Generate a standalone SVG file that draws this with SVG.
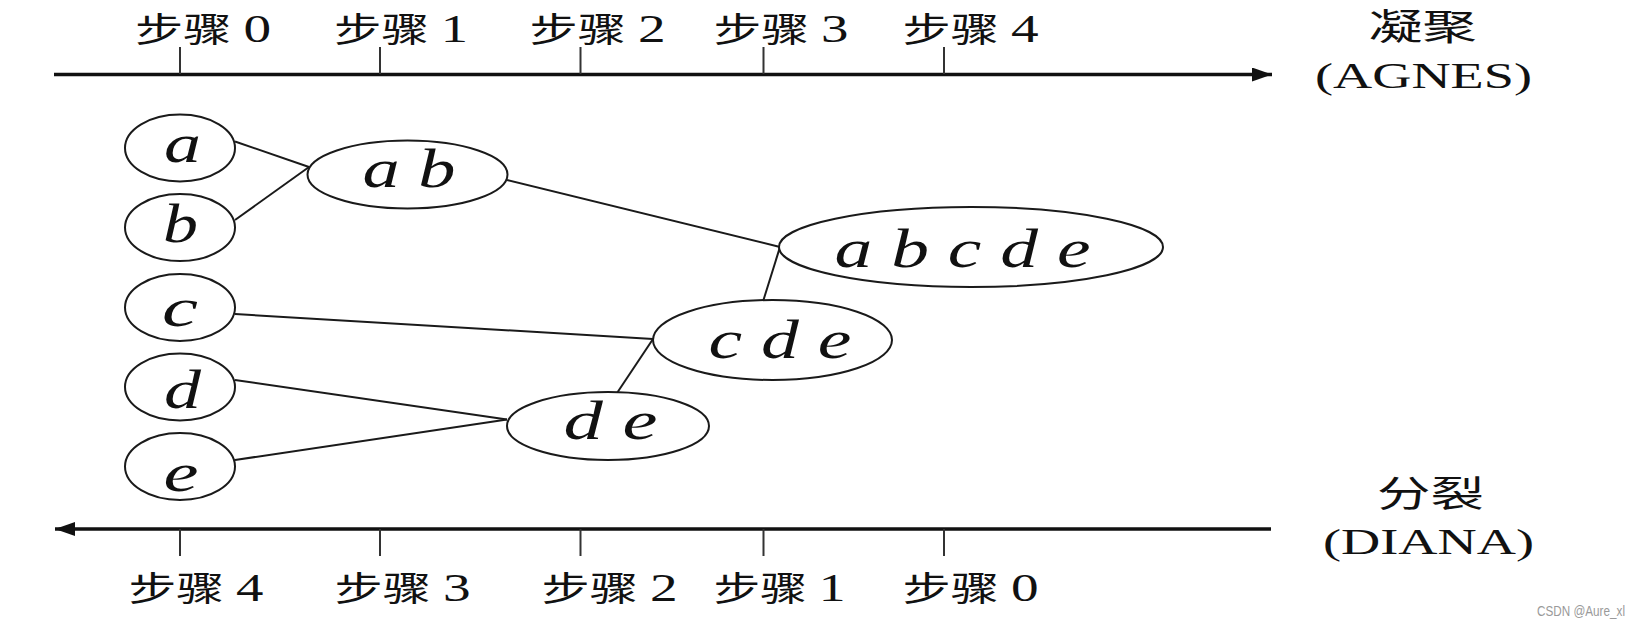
<svg xmlns="http://www.w3.org/2000/svg" width="1641" height="626" viewBox="0 0 1641 626">
<style>
.bg{fill:#ffffff}
.node{fill:#ffffff;stroke:#1a1a1a;stroke-width:2}
.lbl{font-family:"Liberation Serif","Noto Sans CJK SC",serif;font-style:italic;font-size:54px;fill:#111;text-anchor:middle}
.step{font-family:"Liberation Serif","Noto Sans CJK SC",serif;font-size:34px;fill:#111;text-anchor:middle}
.num{font-size:39px}
.side{font-family:"Liberation Serif","Noto Sans CJK SC",serif;font-size:36px;fill:#111;text-anchor:middle}
.edge{stroke:#1a1a1a;stroke-width:2;fill:none}
.axis{stroke:#111;stroke-width:3.5;fill:none}
.tick{stroke:#333;stroke-width:2}
.wm{font-family:"Liberation Sans",sans-serif;font-size:14px;fill:#9a9a9a}
</style>
<defs>
<marker id="arrow" markerUnits="userSpaceOnUse" markerWidth="20" markerHeight="14" refX="20" refY="7" orient="auto">
<path d="M0,0 L20,7 L0,14 Z" fill="#111"/>
</marker>
</defs>
<rect class="bg" x="0" y="0" width="1641" height="626"/>

<g id="axes">
<line class="axis" x1="54" y1="74.5" x2="1272" y2="74.5" marker-end="url(#arrow)"/>
<line class="tick" x1="180" y1="47" x2="180" y2="74"/>
<line class="tick" x1="380" y1="47" x2="380" y2="74"/>
<line class="tick" x1="580.5" y1="47" x2="580.5" y2="74"/>
<line class="tick" x1="763.5" y1="47" x2="763.5" y2="74"/>
<line class="tick" x1="944" y1="47" x2="944" y2="74"/>
<line class="axis" x1="1271" y1="529" x2="55" y2="529" marker-end="url(#arrow)"/>
<line class="tick" x1="180" y1="529" x2="180" y2="556"/>
<line class="tick" x1="380" y1="529" x2="380" y2="556"/>
<line class="tick" x1="580.5" y1="529" x2="580.5" y2="556"/>
<line class="tick" x1="763.5" y1="529" x2="763.5" y2="556"/>
<line class="tick" x1="944" y1="529" x2="944" y2="556"/>
</g>

<g id="axis-labels">
<text class="step" x="203" y="42" textLength="136" lengthAdjust="spacingAndGlyphs">步骤 <tspan class="num">0</tspan></text>
<text class="step" x="401" y="42" textLength="134" lengthAdjust="spacingAndGlyphs">步骤 <tspan class="num">1</tspan></text>
<text class="step" x="597.5" y="42" textLength="136" lengthAdjust="spacingAndGlyphs">步骤 <tspan class="num">2</tspan></text>
<text class="step" x="781" y="42" textLength="135" lengthAdjust="spacingAndGlyphs">步骤 <tspan class="num">3</tspan></text>
<text class="step" x="970.5" y="42" textLength="136" lengthAdjust="spacingAndGlyphs">步骤 <tspan class="num">4</tspan></text>
<text class="step" x="196" y="601" textLength="135" lengthAdjust="spacingAndGlyphs">步骤 <tspan class="num">4</tspan></text>
<text class="step" x="402.5" y="601" textLength="136" lengthAdjust="spacingAndGlyphs">步骤 <tspan class="num">3</tspan></text>
<text class="step" x="609.5" y="601" textLength="136" lengthAdjust="spacingAndGlyphs">步骤 <tspan class="num">2</tspan></text>
<text class="step" x="779.5" y="601" textLength="132" lengthAdjust="spacingAndGlyphs">步骤 <tspan class="num">1</tspan></text>
<text class="step" x="970.5" y="601" textLength="136" lengthAdjust="spacingAndGlyphs">步骤 <tspan class="num">0</tspan></text>
<text class="side" x="1422.5" y="40" textLength="108" lengthAdjust="spacingAndGlyphs">凝聚</text>
<text class="side" x="1423.5" y="88" textLength="217" lengthAdjust="spacingAndGlyphs">(AGNES)</text>
<text class="side" x="1430.5" y="507" textLength="107" lengthAdjust="spacingAndGlyphs">分裂</text>
<text class="side" x="1428.5" y="554" textLength="211" lengthAdjust="spacingAndGlyphs">(DIANA)</text>
</g>

<g id="connectors">
<line class="edge" x1="235" y1="141.5" x2="309" y2="167"/>
<line class="edge" x1="235" y1="220" x2="309" y2="167"/>
<line class="edge" x1="507" y1="180" x2="780" y2="247"/>
<line class="edge" x1="780" y1="247" x2="763.5" y2="300"/>
<line class="edge" x1="235" y1="314" x2="653" y2="339"/>
<line class="edge" x1="617" y1="393" x2="653" y2="339"/>
<line class="edge" x1="235" y1="380" x2="507" y2="419.5"/>
<line class="edge" x1="235" y1="460" x2="507" y2="419.5"/>
</g>

<g id="node-a">
<ellipse class="node" cx="180" cy="148" rx="55" ry="33.5"/>
<text class="lbl" x="182.5" y="162" textLength="37" lengthAdjust="spacingAndGlyphs">a</text>
</g>
<g id="node-b">
<ellipse class="node" cx="180" cy="227.5" rx="55" ry="33.5"/>
<text class="lbl" x="180.5" y="242" textLength="35" lengthAdjust="spacingAndGlyphs">b</text>
</g>
<g id="node-c">
<ellipse class="node" cx="180" cy="307.5" rx="55" ry="33.5"/>
<text class="lbl" x="180" y="326" textLength="36" lengthAdjust="spacingAndGlyphs">c</text>
</g>
<g id="node-d">
<ellipse class="node" cx="180" cy="387" rx="55" ry="33.5"/>
<text class="lbl" x="182.5" y="408" textLength="37" lengthAdjust="spacingAndGlyphs">d</text>
</g>
<g id="node-e">
<ellipse class="node" cx="180" cy="466.5" rx="55" ry="33.5"/>
<text class="lbl" x="181" y="491" textLength="35" lengthAdjust="spacingAndGlyphs">e</text>
</g>
<g id="node-ab">
<ellipse class="node" cx="407.5" cy="174.5" rx="100" ry="34"/>
<text class="lbl" x="409" y="187" textLength="93" lengthAdjust="spacingAndGlyphs">a b</text>
</g>
<g id="node-de">
<ellipse class="node" cx="608" cy="426" rx="101" ry="34"/>
<text class="lbl" x="610.5" y="439" textLength="94" lengthAdjust="spacingAndGlyphs">d e</text>
</g>
<g id="node-cde">
<ellipse class="node" cx="772.5" cy="340" rx="119.5" ry="40"/>
<text class="lbl" x="780" y="358" textLength="143" lengthAdjust="spacingAndGlyphs">c d e</text>
</g>
<g id="node-abcde">
<ellipse class="node" cx="971" cy="247" rx="192" ry="40"/>
<text class="lbl" x="962.5" y="266.5" textLength="256" lengthAdjust="spacingAndGlyphs">a b c d e</text>
</g>

<text class="wm" x="1537" y="616" textLength="88" lengthAdjust="spacingAndGlyphs">CSDN @Aure_xl</text>
</svg>
